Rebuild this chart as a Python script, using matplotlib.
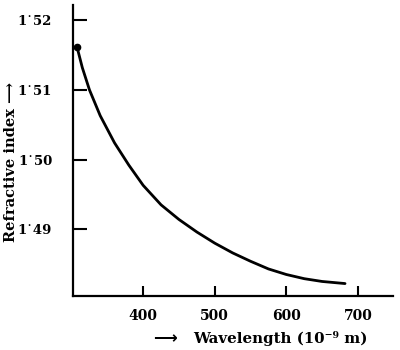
"""Refractive index of glass vs wavelength (dispersion curve), textbook style."""
import matplotlib
matplotlib.use("Agg")
import matplotlib.pyplot as plt

# --- data ----------------------------------------------------------------- #
wavelength_nm = [307.5, 315, 325, 340, 360, 380, 400, 425, 450, 475, 500, 525,
                 550, 575, 600, 625, 650, 682]
refractive_index = [1.5162, 1.5132, 1.5100, 1.5063, 1.5024, 1.4992, 1.4963, 1.4935,
                    1.4914, 1.4896, 1.4880, 1.4866, 1.4854, 1.4843, 1.4835, 1.4829,
                    1.4825, 1.4822]
x_ticks = [400, 500, 600, 700]
y_ticks = [1.49, 1.50, 1.51, 1.52]
y_tick_labels = ["1\u02d949", "1\u02d950", "1\u02d951", "1\u02d952"]

SERIF = ["DejaVu Serif", "DejaVu Sans"]

fig = plt.figure(figsize=(4.0, 3.5), dpi=100)
ax = fig.add_axes([0.1825, 0.154, 0.80, 0.832])

ax.plot(wavelength_nm, refractive_index, "-", color="black", lw=2.0,
        solid_capstyle="round", solid_joinstyle="round")
ax.plot(wavelength_nm[:1], refractive_index[:1], "o", color="black", ms=4.5)

ax.set_xlim(302, 749)
ax.set_ylim(1.4804, 1.5222)

for side in ("top", "right"):
    ax.spines[side].set_visible(False)
for side in ("left", "bottom"):
    ax.spines[side].set_linewidth(1.6)

ax.set_xticks(x_ticks)
ax.set_xticklabels([str(v) for v in x_ticks], family=SERIF, fontweight="bold", fontsize=10)
ax.set_yticks(y_ticks)
ax.set_yticklabels(y_tick_labels, family=SERIF, fontweight="bold", fontsize=9.5)
ax.tick_params(axis="y", direction="in", length=10, width=1.5, pad=15)
ax.tick_params(axis="x", direction="in", length=7, width=1.5, pad=9)

fig.text(153 / 400, 1 - 338 / 350, "\u27f6", family=["DejaVu Sans"],
         fontweight="bold", fontsize=12, ha="left", va="center")
fig.text(193 / 400, 1 - 338 / 350, "Wavelength (10\u207b\u2079 m)", family=SERIF,
         fontweight="bold", fontsize=10.8, ha="left", va="center")
fig.text(11 / 400, 1 - 162 / 350, "Refractive index \u27f6", family=SERIF,
         fontweight="bold", fontsize=10.5, ha="center", va="center", rotation=90)

fig.savefig("out.png", dpi=100, facecolor="white")
